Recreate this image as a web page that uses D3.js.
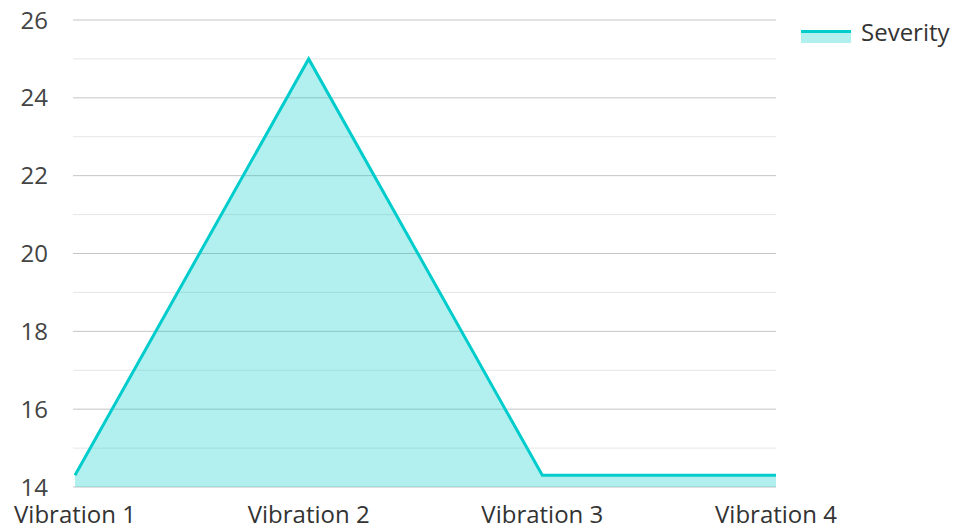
<!DOCTYPE html>
<html>
<head>
<meta charset="utf-8">
<script src="https://cdn.jsdelivr.net/npm/d3@7"></script>
<style>
  body { margin: 0; background: #fff; }
  text { font-family: "Open Sans", sans-serif; }
</style>
</head>
<body>
<div id="chart"></div>
<script>
const categories = ["Vibration 1", "Vibration 2", "Vibration 3", "Vibration 4"];
const severity = [14.3, 25, 14.3, 14.3];
const yTicks = [14, 16, 18, 20, 22, 24, 26];
const seriesName = "Severity";

const width = 955, height = 526;
const color = "#00cccc";

let svg = d3.select("#chart").append("svg")
    .attr("width", width)
    .attr("height", height);

let x = d3.scalePoint()
    .domain(categories)
    .range([75, 776]);

let y = d3.scaleLinear()
    .domain([14, 26])
    .range([487, 20]);

// minor grid (odd values)
d3.range(15, 26, 2).forEach(v => {
    svg.append("line")
    .attr("x1", 73).attr("x2", 776)
    .attr("y1", y(v)).attr("y2", y(v))
    .attr("stroke", "#e6e6e6")
    .attr("stroke-width", 1);
});

// major grid + labels
yTicks.forEach(t => {
    svg.append("line")
    .attr("x1", 73).attr("x2", 776)
    .attr("y1", y(t)).attr("y2", y(t))
    .attr("stroke", "#c4c4c4")
    .attr("stroke-width", 1);
    svg.append("text")
    .attr("x", 48)
    .attr("y", y(t))
    .attr("dy", "0.36em")
    .attr("text-anchor", "end")
    .attr("font-size", 24)
    .attr("fill", "#444")
    .text(t);
});

let data = categories.map((c, i) => ({c: c, v: severity[i]}));

let area = d3.area()
    .x(d => x(d.c))
    .y0(y(14))
    .y1(d => y(d.v));

let line = d3.line()
    .x(d => x(d.c))
    .y(d => y(d.v));

svg.append("path")
    .datum(data)
    .attr("d", area)
    .attr("fill", color)
    .attr("fill-opacity", 0.3);

svg.append("path")
    .datum(data)
    .attr("d", line)
    .attr("fill", "none")
    .attr("stroke", color)
    .attr("stroke-width", 3)
    .attr("stroke-linejoin", "miter");

// x labels
categories.forEach(c => {
    svg.append("text")
    .attr("x", x(c))
    .attr("y", 523)
    .attr("text-anchor", "middle")
    .attr("font-size", 24)
    .attr("fill", "#333")
    .text(c);
});

// legend
svg.append("rect")
    .attr("x", 801).attr("y", 33)
    .attr("width", 50).attr("height", 10)
    .attr("fill", color).attr("fill-opacity", 0.3);
svg.append("line")
    .attr("x1", 801).attr("x2", 851)
    .attr("y1", 31.5).attr("y2", 31.5)
    .attr("stroke", color).attr("stroke-width", 3);
svg.append("text")
    .attr("x", 861).attr("y", 41)
    .attr("font-size", 24)
    .attr("fill", "#333")
    .text(seriesName);
</script>
</body>
</html>
